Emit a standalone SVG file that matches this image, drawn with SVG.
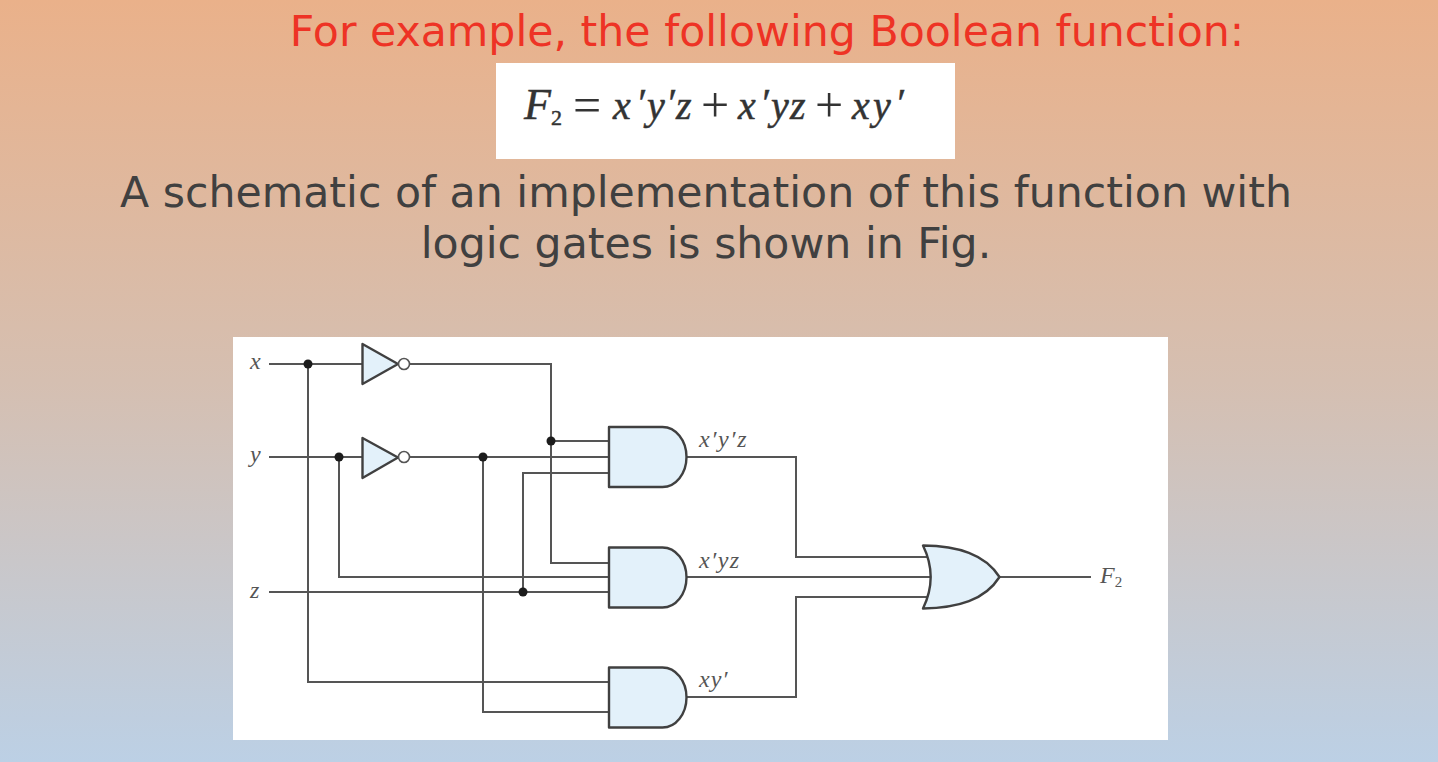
<svg xmlns="http://www.w3.org/2000/svg" width="1438" height="762" viewBox="0 0 1438 762">
<defs>
<linearGradient id="bg" x1="0" y1="0" x2="0" y2="1"><stop offset="0" stop-color="#eab18a"/><stop offset="0.5" stop-color="#d5bfb1"/><stop offset="1" stop-color="#bcd0e5"/></linearGradient>
<path id="and" d="M609 0H662.500A24 30 0 0 1 662.500 60H609Z"/>
</defs>
<style>
.t{font-family:"DejaVu Sans",sans-serif;font-size:42.650px;text-anchor:middle}
.w{fill:none;stroke:#555;stroke-width:2}
.g{fill:#e3f1fa;stroke:#404040;stroke-width:2.400;stroke-linejoin:round}
.b{fill:#fff;stroke:#555;stroke-width:1.600}
.d{fill:#1c1c1c}
.l{font-family:"Liberation Serif",serif;font-style:italic;font-size:24px;fill:#555}
.f{font-family:"Liberation Serif",serif;font-style:italic;font-size:40px;fill:#333;stroke:#333;stroke-width:.5}
.o{font-style:normal;font-size:50px;stroke-width:0}
</style>
<rect width="1438" height="762" fill="url(#bg)"/>
<text class="t" x="767" y="46" fill="#ee3325">For example, the following Boolean function:</text>
<rect x="496" y="63" width="459" height="96" fill="#fff"/>
<g id="formula"><text class="f" y="119"><tspan x="524" font-size="44">F</tspan><tspan font-size="22" font-style="normal" x="551" y="125">2</tspan><tspan class="o" x="573" y="122">=</tspan><tspan x="613" y="119">x</tspan><tspan x="636" y="116">′</tspan><tspan x="647" y="119">y</tspan><tspan x="666" y="116">′</tspan><tspan x="676" y="119">z</tspan><tspan class="o" x="701" y="122">+</tspan><tspan x="738" y="119">x</tspan><tspan x="760" y="116">′</tspan><tspan x="771" y="119">y</tspan><tspan x="790" y="119">z</tspan><tspan class="o" x="815" y="122">+</tspan><tspan x="852" y="119">x</tspan><tspan x="873" y="119">y</tspan><tspan x="895" y="116">′</tspan></text></g>
<text class="t" x="706" y="207" fill="#404040">A schematic of an implementation of this function with</text>
<text class="t" x="706" y="258" fill="#404040">logic gates is shown in Fig.</text>
<rect x="233" y="337" width="935" height="403" fill="#fff"/>
<g id="connectors" class="w">
<path d="M269 364H362M410 364H551V563H609M551 441H609"/>
<path d="M308 364V682H609"/>
<path d="M269 457H362M410 457H609M339 457V577H609"/>
<path d="M483 457V712H609"/>
<path d="M269 592H609M523 592V473H609"/>
<path d="M687 457H796V557H932M687 577H932M687 697H796V597H932M1000 577H1091"/>
</g>
<g id="junctions" class="d">
<circle cx="308" cy="364" r="4.500"/><circle cx="339" cy="457" r="4.500"/><circle cx="483" cy="457" r="4.500"/><circle cx="551" cy="441" r="4.500"/><circle cx="523" cy="592" r="4.500"/>
</g>
<g id="not1"><path class="g" d="M362.500 344L398 364L362.500 384Z"/><circle class="b" cx="404" cy="364" r="5.500"/></g>
<g id="not2"><path class="g" d="M362.500 438L398 457.500L362.500 478Z"/><circle class="b" cx="404" cy="457" r="5.500"/></g>
<g id="and1"><use href="#and" y="427" class="g"/></g>
<g id="and2"><use href="#and" y="547.500" class="g"/></g>
<g id="and3"><use href="#and" y="667.500" class="g"/></g>
<g id="or1"><path class="g" d="M923 545.500C958 546 985 554 999.500 577C985 600 958 608 923 608.500C933 588 933 566 923 545.500Z"/></g>
<g id="labels">
<text class="l" x="250" y="369">x</text>
<text class="l" x="250" y="462">y</text>
<text class="l" x="250" y="598">z</text>
<text class="l" x="699" y="447" letter-spacing="1.600">x′y′z</text>
<text class="l" x="699" y="568" letter-spacing="1.400">x′yz</text>
<text class="l" x="699" y="687" letter-spacing="1">xy′</text>
<text class="l" x="1100" y="583">F<tspan font-size="15" font-style="normal" dy="4">2</tspan></text>
</g>
</svg>
